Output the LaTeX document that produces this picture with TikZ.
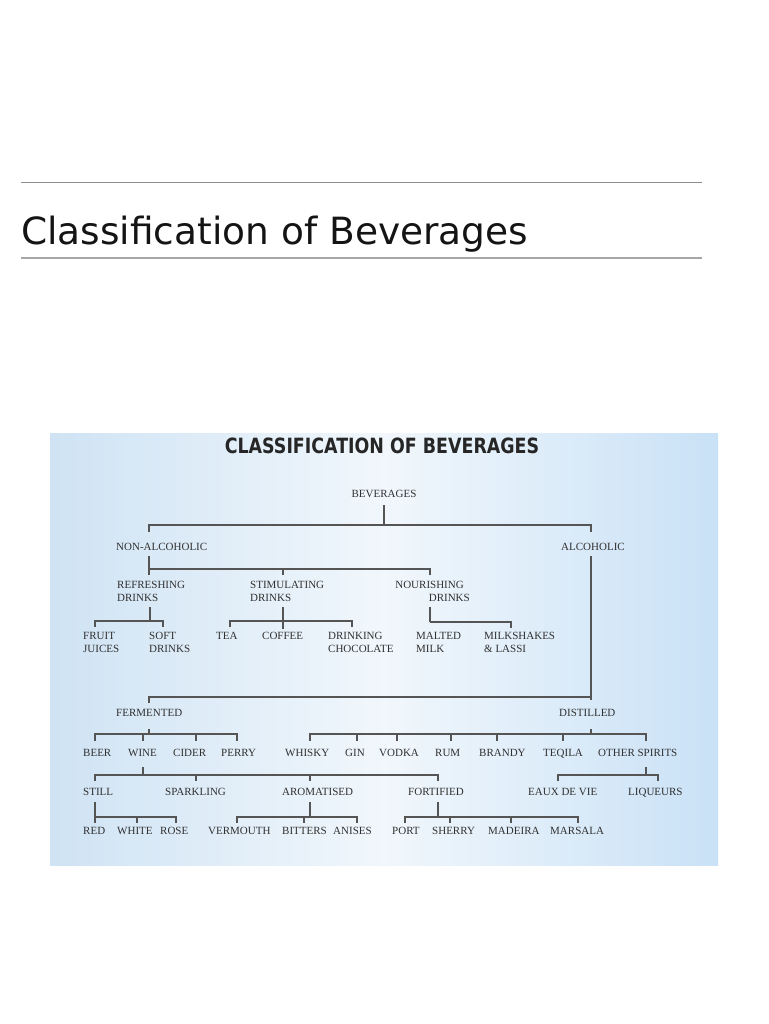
\documentclass[tikz,border=0pt]{standalone}
\usepackage{fontspec}
\usepackage{graphicx}
\setmainfont{Liberation Serif}
\newfontfamily\djv{DejaVu Sans}
\definecolor{labc}{HTML}{303030}
\definecolor{linec}{HTML}{555555}
\definecolor{bgL}{HTML}{CFE3F4}
\definecolor{bgM}{HTML}{F1F7FC}
\definecolor{bgR}{HTML}{C9E1F6}
\newcommand\lab[4]{\node[lbl] (#1) at (#2,#3+3.6) {#4};}
\begin{document}
\begin{tikzpicture}[x=1pt,y=-1pt,
  lbl/.style={anchor=base west,inner sep=0pt,font=\fontsize{11}{13}\selectfont,text=labc},
  ln/.style={draw=linec,line width=1.2pt},
  rule/.style={line width=#1}]
\useasboundingbox[fill=white] (0,0) rectangle (768,1024);
% page header
\draw[rule=1pt,draw=black!45] (21,183) -- (702,183);
\node[anchor=base west,inner sep=0pt,font=\djv\fontsize{37.5}{40}\selectfont,text=black!92] (ptitle) at (21,244) {Classification of Beverages};
\draw[rule=1.6pt,draw=black!35] (21,258) -- (702,258);
% chart background
\shade[left color=bgL,right color=bgR,middle color=bgM] (50,433) rectangle (718,865);
\node[inner sep=0pt,text=black!85] (ctitle) at (382,445.5) {\scalebox{0.83}[1]{\djv\bfseries\fontsize{21}{23}\selectfont CLASSIFICATION OF BEVERAGES}};
% labels
\node[lbl,anchor=base] (bev) at (384,497.6) {BEVERAGES};
\lab{nonalc}{116}{547}{NON-ALCOHOLIC}
\lab{alc}{561}{547}{ALCOHOLIC}
\lab{refa}{117}{585}{REFRESHING}
\lab{refb}{117}{598}{DRINKS}
\lab{stima}{250}{585}{STIMULATING}
\lab{stimb}{250}{598}{DRINKS}
\node[lbl,anchor=base east] (noura) at (464,588.6) {NOURISHING};
\node[lbl,anchor=base east] (nourb) at (470,601.6) {DRINKS};
\lab{fruita}{83}{636}{FRUIT}
\lab{fruitb}{83}{649}{JUICES}
\lab{softa}{149}{636}{SOFT}
\lab{softb}{149}{649}{DRINKS}
\lab{tea}{216}{636}{TEA}
\lab{coffee}{262}{636}{COFFEE}
\lab{choca}{328}{636}{DRINKING}
\lab{chocb}{328}{649}{CHOCOLATE}
\lab{malta}{416}{636}{MALTED}
\lab{maltb}{416}{649}{MILK}
\lab{milka}{484}{636}{MILKSHAKES}
\lab{milkb}{484}{649}{\&\ LASSI}
\lab{ferm}{116}{713}{FERMENTED}
\lab{dist}{559}{713}{DISTILLED}
\lab{beer}{83}{753}{BEER}
\lab{wine}{128}{753}{WINE}
\lab{cider}{173}{753}{CIDER}
\lab{perry}{221}{753}{PERRY}
\lab{whisky}{285}{753}{WHISKY}
\lab{gin}{345}{753}{GIN}
\lab{vodka}{379}{753}{VODKA}
\lab{rum}{435}{753}{RUM}
\lab{brandy}{479}{753}{BRANDY}
\lab{teqila}{543}{753}{TEQILA}
\lab{other}{598}{753}{OTHER SPIRITS}
\lab{still}{83}{792}{STILL}
\lab{spark}{165}{792}{SPARKLING}
\lab{arom}{282}{792}{AROMATISED}
\lab{fort}{408}{792}{FORTIFIED}
\lab{eaux}{528}{792}{EAUX DE VIE}
\lab{liq}{628}{792}{LIQUEURS}
\lab{red}{83}{831}{RED}
\lab{white}{117}{831}{WHITE}
\lab{rose}{160}{831}{ROSE}
\lab{verm}{208}{831}{VERMOUTH}
\lab{bitt}{282}{831}{BITTERS}
\lab{anis}{333}{831}{ANISES}
\lab{port}{392}{831}{PORT}
\lab{sherry}{432}{831}{SHERRY}
\lab{madeira}{488}{831}{MADEIRA}
\lab{marsala}{550}{831}{MARSALA}
% connectors
\draw[ln] (bev.south |- 0,505) -- (384,525);
\draw[ln] (149,532) |- (591,525) -- (591,532);
\draw[ln] (149,556) -- (149,575);
\draw[ln] (149,569) -| (430,575);
\draw[ln] (283,569) -- (283,575);
\draw[ln] (150,607) -- (150,621);
\draw[ln] (95,627) |- (163,621) -- (163,627);
\draw[ln] (283,607) -- (283,629);
\draw[ln] (230,627) |- (352,621) -- (352,627);
\draw[ln] (430,607) -- (430,622);
\draw[ln] (430,622) -| (511,628);
\draw[ln] (591,556) -- (591,700);
\draw[ln] (149,703) |- (591,697);
\draw[ln] (149,729) -- (149,734);
\draw[ln] (95,741) |- (237,734) -- (237,741);
\draw[ln] (143,734) -- (143,741);
\draw[ln] (196,734) -- (196,741);
\draw[ln] (591,729) -- (591,734);
\draw[ln] (310,741) |- (646,734) -- (646,741);
\foreach \x in {357,397,451,497,563} \draw[ln] (\x,734) -- (\x,741);
\draw[ln] (143,767) -- (143,775);
\draw[ln] (95,781) |- (438,775) -- (438,781);
\draw[ln] (196,775) -- (196,781);
\draw[ln] (310,775) -- (310,781);
\draw[ln] (646,767) -- (646,775);
\draw[ln] (558,781) |- (658,775) -- (658,781);
\draw[ln] (95,802) -- (95,823);
\draw[ln] (95,817) -| (176,823);
\draw[ln] (137,817) -- (137,823);
\draw[ln] (310,802) -- (310,817);
\draw[ln] (237,823) |- (357,817) -- (357,823);
\draw[ln] (304,817) -- (304,823);
\draw[ln] (438,802) -- (438,817);
\draw[ln] (405,823) |- (578,817) -- (578,823);
\draw[ln] (450,817) -- (450,823);
\draw[ln] (511,817) -- (511,823);
\end{tikzpicture}
\end{document}
